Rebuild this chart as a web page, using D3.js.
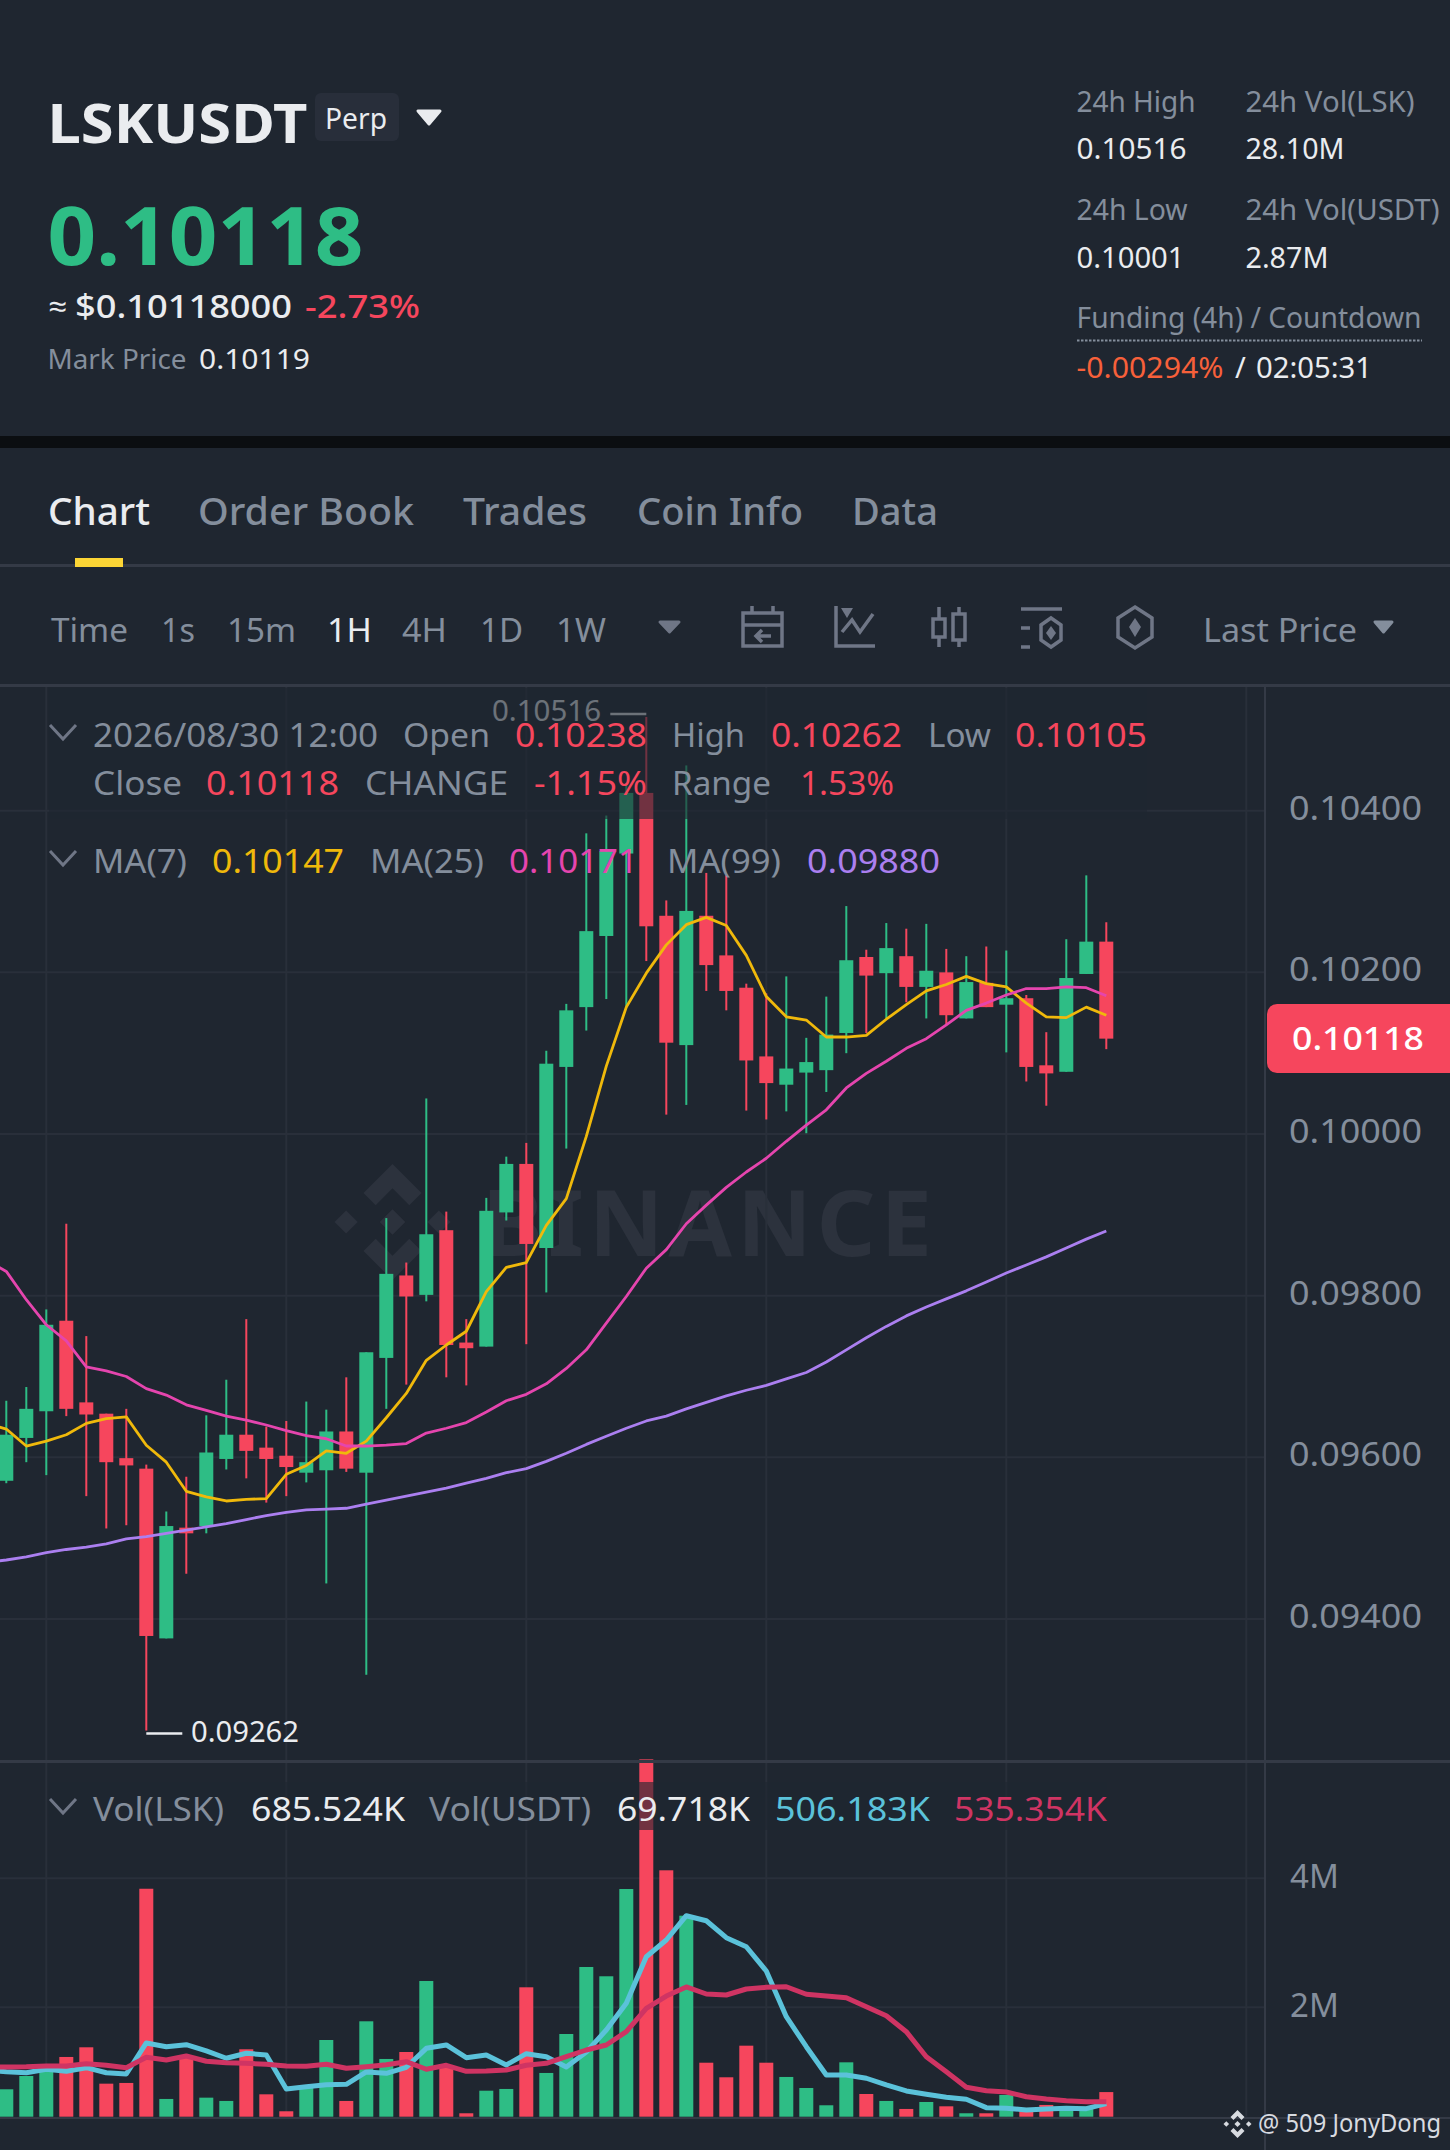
<!DOCTYPE html>
<html>
<head>
<meta charset="utf-8">
<style>
html, body { margin: 0; padding: 0; background: #1f2630; }
svg { display: block; }
text { font-family: "Noto Sans", "Open Sans", sans-serif; }
.axis path, .axis line { display: none; }
.axis text { font-family: "Noto Sans", "Open Sans", sans-serif; font-size: 33px; fill: #848e9c; }
</style>
</head>
<body>
<script src="https://d3js.org/d3.v7.min.js"></script>
<script>
// prices are in exchange ticks of 0.00001
var opens = [9571,9624,9657,9769,9668,9654,9599,9586,9376,9513,9515,9598,9628,9612,9602,9581,9584,9632,9581,9723,
	9825,9801,9881,9742,9737,9903,9963,9859,10083,10157,10245,10347,10422,10270,10110,10270,10221,10181,10096,10061,
	10076,10079,10125,10219,10199,10220,10182,10200,10143,10187,10160,10168,10085,10077,10198,10238];
var closes = [9628,9660,9764,9660,9653,9594,9590,9379,9515,9506,9606,9628,9608,9598,9588,9594,9632,9586,9730,9827,
	9799,9876,9739,9735,9905,9963,9864,10087,10153,10251,10350,10422,10257,10113,10276,10209,10177,10091,10063,10081,
	10089,10123,10215,10196,10230,10182,10202,10147,10188,10157,10168,10083,10075,10193,10238,10118];
var highs = [9670,9687,9783,9889,9750,9654,9660,9591,9533,9576,9652,9696,9771,9638,9645,9669,9659,9699,9730,9896,
	9841,10044,9904,9771,9921,9972,9989,10103,10161,10372,10394,10434,10516,10289,10456,10323,10320,10186,10174,10195,
	10119,10170,10282,10228,10261,10254,10260,10229,10220,10232,10227,10172,10126,10241,10320,10262];
var lows = [9568,9594,9578,9651,9552,9512,9516,9262,9376,9456,9506,9585,9574,9544,9552,9569,9444,9582,9331,9660,
	9690,9793,9699,9689,9737,9893,9740,9804,9982,10128,10167,10156,10214,10024,10036,10177,10153,10029,10018,10028,
	10001,10052,10100,10125,10143,10163,10143,10136,10143,10157,10101,10065,10035,10077,10198,10105];

// moving averages start one bar left of the first visible candle
var ma7 = [9642,9635,9614,9620,9628,9642,9648,9650,9615,9594,9558,9551,9546,9548,9549,9579,9590,9608,9605,9620,9649,
	9679,9720,9739,9756,9805,9835,9841,9887,9920,9997,10084,10157,10199,10234,10259,10268,10258,10221,10170,10145,
	10141,10120,10120,10122,10142,10160,10177,10185,10195,10186,10182,10162,10145,10144,10157,10147];
var ma25 = [9844,9830,9795,9764,9744,9712,9707,9700,9685,9677,9665,9658,9651,9646,9640,9633,9627,9623,9614,9614,9615,
	9617,9630,9636,9643,9656,9670,9678,9691,9710,9733,9766,9799,9834,9857,9889,9912,9934,9953,9970,9991,
	10011,10030,10057,10075,10090,10106,10118,10135,10153,10162,10172,10180,10180,10182,10181,10171];
var ma99 = [9470,9473,9477,9482,9486,9489,9493,9499,9502,9506,9510,9514,9518,9523,9528,9532,9535,9536,9537,9542,9547,
	9552,9557,9562,9568,9574,9581,9586,9595,9605,9616,9626,9636,9645,9651,9660,9668,9676,9683,9689,9697,
	9705,9718,9733,9748,9762,9775,9786,9796,9806,9817,9828,9838,9848,9859,9870,9880];

// volume in thousands of LSK
var volumes = [729,935,1013,1230,1380,816,827,3838,579,1214,599,548,1349,651,388,769,1493,548,1783,1199,
	1307,2408,1106,357,707,734,2310,982,1586,2625,2481,3834,5844,4124,3420,1141,915,1405,1141,920,
	749,481,1147,656,548,424,532,465,357,357,641,439,486,459,459,685.524];
var volMaFast = [1028,1002,986,1039,1008,1064,986,966,1447,1389,1420,1323,1210,1287,1261,734,769,800,806,997,977,
	1070,1364,1416,1219,1261,1106,1281,1234,1075,1307,1648,2062,2784,3043,3420,3342,3079,2939,2563,1854,
	1389,951,951,900,796,703,651,605,574,444,435,408,424,435,428,506.183];
var volMaSlow = [1075,1075,1079,1090,1090,1126,1101,1064,1225,1183,1245,1163,1141,1132,1116,1090,1085,1116,1054,1079,1110,
	1157,1039,1101,1008,1013,1028,1101,1132,1234,1338,1416,1622,1984,2175,2315,2206,2191,2284,2310,2319,
	2202,2175,2149,2009,1870,1622,1234,1002,760,707,687,614,579,552,537,535.354];

var priceTicks = [9400,9600,9800,10000,10200,10400];
var volTicks = [2000,4000];
var gridBars = [2,14,26,38,50,62];
var lastPrice = 10118, markPrice = 10119, dayHigh = 10516, dayLow = 10001, swingLow = 9262;

var BG = "#1f2630", UP = "#2ebd85", DOWN = "#f6465d", GREY = "#848e9c", WHITE = "#eaecef",
	GRID = "#292f3a", RULE = "#343a46", ICON = "#6f7686";
var C_MA7 = "#f0b90b", C_MA25 = "#e545ae", C_MA99 = "#ab7ff0", C_FAST = "#5bc2da", C_SLOW = "#cf3463";

var fmtP = function(d){ return d3.format(".5f")(d / 1e5); };
var fmtK = function(d){ return d3.format(".3f")(d) + "K"; };

var svg = d3.select("body").append("svg").attr("width", 1450).attr("height", 2150);
svg.append("rect").attr("width", 1450).attr("height", 2150).attr("fill", BG);

function label(str, x, y, size, fill, weight, width){
	var t = svg.append("text").attr("x", x).attr("y", y).attr("font-size", size)
		.attr("fill", fill).attr("font-weight", weight || 400).text(str);
	if (width) t.attr("textLength", width).attr("lengthAdjust", "spacingAndGlyphs");
	return t;
}
function triangle(x0, x1, y0, y1, fill){
	svg.append("path").attr("fill", fill).attr("stroke", fill).attr("stroke-width", 3).attr("stroke-linejoin", "round")
		.attr("d", "M" + (x0+2) + "," + (y0+2) + "L" + (x1-2) + "," + (y0+2) + "L" + ((x0+x1)/2) + "," + (y1-2) + "Z");
}
function chevron(x0, x1, y0, y1){
	svg.append("path").attr("fill", "none").attr("stroke", ICON).attr("stroke-width", 3)
		.attr("d", "M" + x0 + "," + y0 + "L" + ((x0+x1)/2) + "," + y1 + "L" + x1 + "," + y0);
}
function logo(parent, cx, cy, r, fill){
	var shapes = [
		[[0,-.22],[.22,0],[0,.22],[-.22,0]],
		[[-.8,-.2],[-.6,0],[-.8,.2],[-1,0]],
		[[.8,-.2],[1,0],[.8,.2],[.6,0]],
		[[-.5,-.5],[0,-1],[.5,-.5],[.29,-.29],[0,-.58],[-.29,-.29]],
		[[-.5,.5],[0,1],[.5,.5],[.29,.29],[0,.58],[-.29,.29]]
	];
	parent.selectAll(null).data(shapes).enter().append("polygon").attr("fill", fill)
		.attr("points", function(s){ return s.map(function(p){ return (cx + p[0]*r) + "," + (cy + p[1]*r); }).join(" "); });
}

/* ---------- header ---------- */
label("LSKUSDT", 47.5, 143, 54, WHITE, 700, 260);
svg.append("rect").attr("x", 315).attr("y", 93).attr("width", 84).attr("height", 48).attr("rx", 6).attr("fill", "#282e3a");
label("Perp", 325, 129, 29, WHITE, 400, 62);
triangle(416, 442, 109, 126, WHITE);
label(fmtP(lastPrice), 47.5, 265, 81, UP, 700, 316);
label("\u2248", 48, 318, 32, WHITE, 500, 19);
label("$0.10118000", 75, 318, 32, WHITE, 500, 217);
label("-2.73%", 305, 318, 32, DOWN, 500, 115);
label("Mark Price", 47.5, 369, 28, GREY, 400, 139);
label(fmtP(markPrice), 199, 369, 28, WHITE, 400, 111);

label("24h High", 1076.5, 112, 29, GREY, 400, 119);
label("24h Vol(LSK)", 1245.5, 112, 29, GREY, 400, 169);
label(fmtP(dayHigh), 1076.5, 159, 29, WHITE, 400, 110);
label("28.10M", 1245.5, 159, 29, WHITE, 400, 99);
label("24h Low", 1076.5, 220, 29, GREY, 400, 111);
label("24h Vol(USDT)", 1245.5, 220, 29, GREY, 400, 194);
label(fmtP(dayLow), 1076.5, 268, 29, WHITE, 400, 108);
label("2.87M", 1245.5, 268, 29, WHITE, 400, 83);
label("Funding (4h) / Countdown", 1076.5, 328, 29, GREY, 400, 345);
svg.append("line").attr("x1", 1077).attr("x2", 1422).attr("y1", 340.5).attr("y2", 340.5)
	.attr("stroke", GREY).attr("stroke-width", 2).attr("stroke-dasharray", "2.5 1.5");
label("-0.00294%", 1076.5, 378, 29, "#f7603a", 400, 147);
label("/", 1235, 378, 29, WHITE);
label("02:05:31", 1256, 378, 29, WHITE, 400, 116);

svg.append("rect").attr("y", 436).attr("width", 1450).attr("height", 12).attr("fill", "#0b0e11");

/* ---------- tabs ---------- */
label("Chart", 48, 525, 38, WHITE, 500, 102);
label("Order Book", 198, 525, 38, GREY, 500, 216);
label("Trades", 463, 525, 38, GREY, 500, 124);
label("Coin Info", 637, 525, 38, GREY, 500, 166);
label("Data", 852, 525, 38, GREY, 500, 86);
svg.append("rect").attr("y", 564).attr("width", 1450).attr("height", 3).attr("fill", RULE);
svg.append("rect").attr("x", 75).attr("y", 558).attr("width", 48).attr("height", 9).attr("fill", "#fcd535");

/* ---------- toolbar ---------- */
label("Time", 51, 642, 33, GREY, 400, 77);
label("1s", 161, 642, 33, GREY, 400, 34);
label("15m", 227, 642, 33, GREY, 400, 69);
label("1H", 327, 642, 33, WHITE, 400, 45);
label("4H", 402, 642, 33, GREY, 400, 45);
label("1D", 480, 642, 33, GREY, 400, 43);
label("1W", 556, 642, 33, GREY, 400, 50);
triangle(658, 681, 620, 634, ICON);
label("Last Price", 1203, 642, 33, GREY, 400, 154);
triangle(1373, 1394, 620, 634, GREY);
svg.append("rect").attr("y", 684).attr("width", 1450).attr("height", 3).attr("fill", RULE);

var icons = svg.append("g").attr("fill", "none").attr("stroke", ICON).attr("stroke-width", 3.5);
// calendar
icons.append("rect").attr("x", 743).attr("y", 613).attr("width", 39).attr("height", 33);
icons.append("path").attr("d", "M743,625H782M752,606V613M773,606V613M771,636H756M762,630L756,636L762,642");
// line chart
icons.append("path").attr("d", "M836,606V646H875M842,632L852,620L860,632L873,614");
icons.append("path").attr("fill", ICON).attr("stroke", "none").attr("d", "M841,608H853L847,618Z");
// candles
icons.append("path").attr("d", "M939,607V647M959,607V647");
icons.append("rect").attr("x", 933).attr("y", 619).attr("width", 12).attr("height", 18).attr("fill", BG);
icons.append("rect").attr("x", 953).attr("y", 614).attr("width", 12).attr("height", 26).attr("fill", BG);
// alert
icons.append("path").attr("d", "M1021,609H1062M1021,628H1030M1021,647H1030M1051,618L1061,625V640L1051,647L1041,640V625Z");
icons.append("path").attr("fill", ICON).attr("stroke", "none").attr("d", "M1051,626L1056,633L1051,640L1046,633Z");
// depth
icons.append("path").attr("d", "M1135,607L1152,618V637L1135,648L1118,637V618Z");
icons.append("path").attr("fill", ICON).attr("stroke", "none").attr("d", "M1135,618L1141,627L1135,637L1129,627Z");

/* ---------- scales ---------- */
var x = d3.scaleLinear().domain([0, 55]).range([6.3, 1106.3]);
var y = d3.scaleLinear().domain([9400, 10400]).range([1619, 810.7]);
var yVol = d3.scaleLinear().domain([2000, 4000]).range([2007.3, 1878.3]);
var volBase = 2116.7, axisX = 1265;
var bodyW = 14, wickW = 2;
var bars = d3.range(opens.length);

svg.append("clipPath").attr("id", "plot").append("rect").attr("x", 0).attr("y", 687).attr("width", axisX).attr("height", 1430);

var watermark = svg.append("g");
logo(watermark, 392.5, 1222, 58, "#2c323d");
watermark.append("text").attr("x", 482).attr("y", 1256).attr("font-size", 92).attr("font-weight", 700)
	.attr("fill", "#2c323d").attr("textLength", 450).text("BINANCE");

/* ---------- grid ---------- */
var grid = svg.append("g").attr("stroke", GRID).attr("stroke-width", 2);
grid.selectAll(".v").data(gridBars).enter().append("line")
	.attr("x1", function(d){ return x(d); }).attr("x2", function(d){ return x(d); })
	.attr("y1", 687).attr("y2", volBase);
grid.selectAll(".h").data(priceTicks).enter().append("line")
	.attr("x1", 0).attr("x2", axisX).attr("y1", function(d){ return y(d); }).attr("y2", function(d){ return y(d); });
grid.selectAll(".hv").data(volTicks).enter().append("line")
	.attr("x1", 0).attr("x2", axisX).attr("y1", function(d){ return yVol(d); }).attr("y2", function(d){ return yVol(d); });

/* ---------- candles ---------- */
var plot = svg.append("g").attr("clip-path", "url(#plot)");
var candleColor = function(i){ return closes[i] >= opens[i] ? UP : DOWN; };

plot.append("g").selectAll("rect").data(bars).enter().append("rect")
	.attr("x", function(i){ return x(i) - wickW/2; }).attr("width", wickW)
	.attr("y", function(i){ return y(highs[i]); })
	.attr("height", function(i){ return y(lows[i]) - y(highs[i]); })
	.attr("fill", candleColor);
plot.append("g").selectAll("rect").data(bars).enter().append("rect")
	.attr("x", function(i){ return x(i) - bodyW/2; }).attr("width", bodyW)
	.attr("y", function(i){ return y(Math.max(opens[i], closes[i])); })
	.attr("height", function(i){ return Math.max(1, Math.abs(y(opens[i]) - y(closes[i]))); })
	.attr("fill", candleColor);

function maLine(values, scale, color, width){
	var line = d3.line().x(function(d, i){ return x(i - 1); }).y(function(d){ return scale(d); });
	plot.append("path").attr("d", line(values)).attr("fill", "none")
		.attr("stroke", color).attr("stroke-width", width).attr("stroke-linejoin", "round");
}
maLine(ma7, y, C_MA7, 2.8);
maLine(ma25, y, C_MA25, 2.8);
maLine(ma99, y, C_MA99, 2.8);

/* ---------- volume ---------- */
plot.append("g").selectAll("rect").data(bars).enter().append("rect")
	.attr("x", function(i){ return x(i) - bodyW/2; }).attr("width", bodyW)
	.attr("y", function(i){ return yVol(volumes[i]); })
	.attr("height", function(i){ return volBase - yVol(volumes[i]); })
	.attr("fill", candleColor);
maLine(volMaFast, yVol, C_FAST, 5);
maLine(volMaSlow, yVol, C_SLOW, 5);

/* ---------- high / low markers ---------- */
var hi = highs.indexOf(dayHigh), lo = lows.indexOf(swingLow);
svg.append("line").attr("x1", x(hi) - 36).attr("x2", x(hi)).attr("y1", y(dayHigh) - 3).attr("y2", y(dayHigh) - 3)
	.attr("stroke", WHITE).attr("stroke-width", 2.5);
label(fmtP(dayHigh), 492, y(dayHigh) + 4, 29, WHITE, 400, 109);
svg.append("line").attr("x1", x(lo)).attr("x2", x(lo) + 36).attr("y1", y(swingLow) + 3).attr("y2", y(swingLow) + 3)
	.attr("stroke", WHITE).attr("stroke-width", 2.5);
label(fmtP(swingLow), 191, y(swingLow) + 11, 29, WHITE, 400, 108);

/* ---------- legend panels, they dim what runs behind them ---------- */
svg.append("rect").attr("x", 49).attr("y", 688).attr("width", 1098).attr("height", 131).attr("fill", BG).attr("fill-opacity", .62);
svg.append("rect").attr("x", 49).attr("y", 1782).attr("width", 1058).attr("height", 48).attr("fill", BG).attr("fill-opacity", .62);

chevron(50, 76, 725, 739);
label("2026/08/30 12:00", 93, 747, 33, GREY, 400, 285);
label("Open", 403, 747, 33, GREY, 400, 87);
label(fmtP(opens[55]), 515, 747, 33, DOWN, 400, 132);
label("High", 672, 747, 33, GREY, 400, 73);
label(fmtP(highs[55]), 771, 747, 33, DOWN, 400, 131);
label("Low", 928, 747, 33, GREY, 400, 63);
label(fmtP(lows[55]), 1015, 747, 33, DOWN, 400, 132);
label("Close", 93, 795, 33, GREY, 400, 89);
label(fmtP(closes[55]), 206, 795, 33, DOWN, 400, 133);
label("CHANGE", 365, 795, 33, GREY, 400, 143);
label("-1.15%", 534, 795, 33, DOWN, 400, 113);
label("Range", 672, 795, 33, GREY, 400, 99);
label("1.53%", 800, 795, 33, DOWN, 400, 94);

chevron(50, 76, 851, 865);
label("MA(7)", 93, 873, 33, GREY, 400, 94);
label(fmtP(ma7[56]), 212, 873, 33, C_MA7, 400, 132);
label("MA(25)", 370, 873, 33, GREY, 400, 114);
label(fmtP(ma25[56]), 509, 873, 33, C_MA25, 400, 129);
label("MA(99)", 667, 873, 33, GREY, 400, 114);
label(fmtP(ma99[56]), 807, 873, 33, C_MA99, 400, 133);

chevron(50, 76, 1799, 1813);
label("Vol(LSK)", 93, 1821, 33, GREY, 400, 131);
label(fmtK(volumes[55]), 251, 1821, 33, WHITE, 400, 154);
label("Vol(USDT)", 429, 1821, 33, GREY, 400, 162);
label("69.718K", 617, 1821, 33, WHITE, 400, 133);
label(fmtK(volMaFast[56]), 775, 1821, 33, C_FAST, 400, 155);
label(fmtK(volMaSlow[56]), 954, 1821, 33, C_SLOW, 400, 153);

/* ---------- axes ---------- */
svg.append("rect").attr("y", 1760).attr("width", 1450).attr("height", 3).attr("fill", RULE);
svg.append("rect").attr("y", 2117).attr("width", 1450).attr("height", 2).attr("fill", RULE);
svg.append("rect").attr("x", axisX - 1).attr("y", 687).attr("width", 2).attr("height", 1463).attr("fill", RULE);

var priceAxis = svg.append("g").attr("class", "axis").attr("transform", "translate(" + axisX + ",-2)")
	.call(d3.axisRight(y).tickValues(priceTicks).tickFormat(fmtP).tickSize(0).tickPadding(24));
priceAxis.selectAll("text").attr("textLength", 133).attr("lengthAdjust", "spacingAndGlyphs");
svg.append("g").attr("class", "axis").attr("transform", "translate(" + axisX + ",-1)")
	.call(d3.axisRight(yVol).tickValues(volTicks).tickFormat(function(d){ return d / 1000 + "M"; }).tickSize(0).tickPadding(25));

svg.append("path").attr("fill", DOWN)
	.attr("d", "M1450,1004H1277a10,10 0 0 0 -10,10V1063a10,10 0 0 0 10,10H1450Z");
label(fmtP(lastPrice), 1292, 1050, 33, "#ffffff", 500, 132);

/* ---------- credit ---------- */
logo(svg, 1237.5, 2124, 14, "#d8dbe0");
label("@ 509 JonyDong", 1258, 2132, 25, "#d8dbe0", 400, 183);
</script>
</body>
</html>
